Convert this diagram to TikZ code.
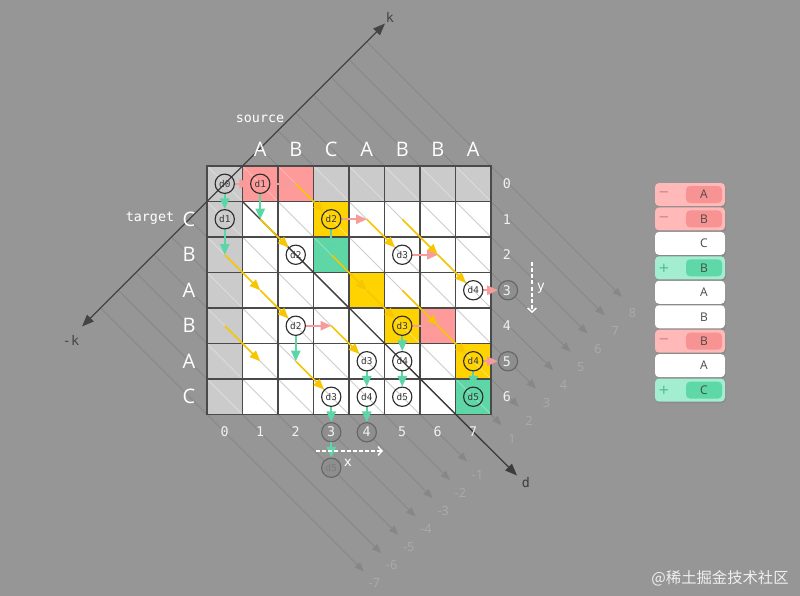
\documentclass[tikz,border=0pt]{standalone}
\usepackage{fontspec}
\setmainfont{Open Sans}
\newfontfamily\mono{DejaVu Sans Mono}
\newfontfamily\dejavu{DejaVu Sans}
\newfontfamily\cjk{Noto Sans CJK SC}
\usetikzlibrary{arrows.meta}
\definecolor{bgc}{HTML}{969696}
\definecolor{cellgray}{HTML}{CBCBCB}
\definecolor{pinkc}{HTML}{FF9A9A}
\definecolor{greenc}{HTML}{5ED6A6}
\definecolor{yellowc}{HTML}{FFD300}
\definecolor{ylwline}{HTML}{F7C600}
\definecolor{pnkline}{HTML}{F79C9C}
\definecolor{grnline}{HTML}{5CD6A6}
\definecolor{gridc}{HTML}{4A4A4A}
\definecolor{diagout}{HTML}{878787}
\definecolor{diaglabc}{HTML}{ABABAB}
\definecolor{axisc}{HTML}{444444}
\definecolor{lpink}{HTML}{FFB9B9}
\definecolor{dpink}{HTML}{F89393}
\definecolor{lgreen}{HTML}{A3EDD0}
\definecolor{dgreen}{HTML}{5FD8A7}
\definecolor{lgtext}{HTML}{4A4A4A}
\definecolor{dgw}{HTML}{CDCDCD}
\definecolor{dgg}{HTML}{DCDCDC}
\definecolor{dgp}{HTML}{FFB4B4}
\definecolor{dgy}{HTML}{FFE16E}
\definecolor{dgn}{HTML}{8CE4C0}
\definecolor{dlinec}{HTML}{3C3C3C}
\definecolor{circc}{HTML}{2D2D2D}
\definecolor{circt}{HTML}{373737}
\definecolor{numc}{HTML}{F2F2F2}
\definecolor{outfill}{HTML}{8E8E8E}
\definecolor{outdraw}{HTML}{666666}
\definecolor{outtext}{HTML}{7A7A7A}
\pgfdeclarelayer{bglayer}
\pgfdeclarelayer{midlayer}
\pgfsetlayers{bglayer,midlayer,main}
\newcommand\mycell[4]{%
  \fill[#3] ({207+35.5*#1},{166+35.5*#2}) rectangle +(35.5,35.5);
  \draw[#4, line width=0.6pt] ({207+35.5*#1},{166+35.5*#2}) -- +(35.5,35.5);}
\newcommand\lgrow[5]{% index, light, dark, sign, letter
  \fill[black, opacity=0.08, rounded corners=3pt] (656,{184.5+24.45*#1}) rectangle (726,{207.5+24.45*#1});
  \fill[#2, rounded corners=3pt] (655,{183+24.45*#1}) rectangle (725,{206+24.45*#1});
  \fill[#3, rounded corners=3pt] (686,{186+24.45*#1}) rectangle (722,{203+24.45*#1});
  \node[lgsign] (lgs#1) at (664,{194.5+24.45*#1}) {#4};
  \node[lgtxt] (lgl#1) at (704,{194.5+24.45*#1}) {#5};}
\newcommand\lgplain[2]{%
  \fill[black, opacity=0.08, rounded corners=3pt] (656,{184.5+24.45*#1}) rectangle (726,{207.5+24.45*#1});
  \fill[white, rounded corners=3pt] (655,{183+24.45*#1}) rectangle (725,{206+24.45*#1});
  \node[lgtxt] (lgl#1) at (704,{194.5+24.45*#1}) {#2};}
\begin{document}
\begin{tikzpicture}[x=0.75pt,y=-0.75pt,
  dn/.style={circle, draw=circc, line width=0.85pt, minimum size=14.5pt, inner sep=0pt,
    font=\mono\fontsize{7}{8}\selectfont, text=circt},
  outc/.style={circle, draw=outdraw, fill=outfill, text=outtext,
    line width=0.85pt, minimum size=14.5pt, inner sep=0pt, font=\mono\fontsize{7}{8}\selectfont},
  ylw/.style={draw=ylwline, line width=1.3pt, -{Triangle[length=8pt,width=6.5pt]}, fill=ylwline},
  pnk/.style={draw=pnkline, line width=1.3pt, -{Triangle[length=8pt,width=7pt]}, fill=pnkline},
  grn/.style={draw=grnline, line width=1.3pt, -{Triangle[length=8pt,width=7pt]}, fill=grnline},
  diagline/.style={draw=diagout, line width=0.7pt, -{Triangle[length=7pt,width=5.5pt]}},
  diaglab/.style={text=diaglabc, font=\fontsize{9.5}{11}\selectfont},
  gridline/.style={draw=gridc, line width=1.1pt, line cap=rect},
  axis/.style={draw=axisc, line width=1pt, -{Triangle[length=9pt,width=7pt]}},
  big/.style={text=white, font=\fontsize{15}{18}\selectfont},
  num/.style={text=numc, font=\mono\fontsize{10}{12}\selectfont},
  lbl/.style={text=white, font=\mono\fontsize{10}{12}\selectfont},
  axlab/.style={text=axisc, font=\mono\fontsize{10}{12}\selectfont},
  dasharrow/.style={draw=white, line width=1.1pt, dash pattern=on 3pt off 1.6pt, -{Straight Barb[length=3pt,width=6.5pt]}},
  lgtxt/.style={text=lgtext, font=\fontsize{9}{11}\selectfont},
  lgsign/.style={font=\dejavu\fontsize{10}{12}\selectfont}
]
\begin{pgfonlayer}{bglayer}
\fill[bgc] (0,0) rectangle (800,596);
\useasboundingbox (0,0) rectangle (800,596);
% diagonals outside
\foreach \k in {-7,-6,-5,-4,-3,-2,-1,1,2,3,4,5,6,7,8} {
  \coordinate (ks\k) at ({224.75+17.75*\k},{183.75-17.75*\k});
  \coordinate (ke\k) at ({501.5+17.2*(\k-1)},{501.5+17.2*(\k-1)-41-35.5*\k});
  \draw[diagline] (ks\k) -- (ke\k);
  \node[diaglab] (kl\k) at ({512+17.2*(\k-1)},{439-18*(\k-1)}) {\k};
}
% cells
\foreach \i in {0,...,7} \foreach \j in {0,...,6} {\mycell{\i}{\j}{white}{dgw}}
\foreach \i in {0,3,4,5,6,7} {\mycell{\i}{0}{cellgray}{dgg}}
\foreach \j in {1,...,6} {\mycell{0}{\j}{cellgray}{dgg}}
\mycell{1}{0}{pinkc}{dgp}
\mycell{2}{0}{pinkc}{dgp}
\mycell{6}{4}{pinkc}{dgp}
\mycell{3}{1}{yellowc}{dgy}
\mycell{4}{3}{yellowc}{dgy}
\mycell{5}{4}{yellowc}{dgy}
\mycell{7}{5}{yellowc}{dgy}
\mycell{3}{2}{greenc}{dgn}
\mycell{7}{6}{greenc}{dgn}
\foreach \i in {0,...,8} \draw[gridline] ({207+35.5*\i},166) -- ({207+35.5*\i},414.5);
\foreach \j in {0,...,7} \draw[gridline] (207,{166+35.5*\j}) -- (491,{166+35.5*\j});
\end{pgfonlayer}

% cell centres
\foreach \i in {0,...,8} \foreach \j in {0,...,8} {\coordinate (c\i\j) at ({224.75+35.5*\i},{183.75+35.5*\j});}

% outside circles (below the arrows)
\begin{pgfonlayer}{bglayer}
\node[outc] (o83) at (508,290.25) {};
\node[outc] (o85) at (508,361.25) {};
\node[outc] (o37) at (c37) {};
\node[outc] (o47) at (c47) {};
\node[outc] (o38) at (c38) {d5};
\end{pgfonlayer}

% circles
\node[dn] (n00) at (c00) {d0};
\node[dn] (n10) at (c10) {d1};
\node[dn] (n01) at (c01) {d1};
\node[dn] (n31) at (c31) {d2};
\node[dn] (n22) at (c22) {d2};
\node[dn] (n52) at (c52) {d3};
\node[dn] (n73) at (c73) {d4};
\node[dn] (n24) at (c24) {d2};
\node[dn] (n54) at (c54) {d3};
\node[dn] (n45) at (c45) {d3};
\node[dn] (n55) at (c55) {d4};
\node[dn] (n75) at (c75) {d4};
\node[dn] (n36) at (c36) {d3};
\node[dn] (n46) at (c46) {d4};
\node[dn] (n56) at (c56) {d5};
\node[dn] (n76) at (c76) {d5};

\begin{pgfonlayer}{midlayer}
% axes
\coordinate (kminus) at (82,326.5);
\coordinate (kplus) at (385,23.5);
\draw[axis, {Triangle[length=9pt,width=7pt]}-{Triangle[length=9pt,width=7pt]}] (kminus) -- (kplus);
\coordinate (dstart) at (242.5,201.5);
\coordinate (dend) at (517,475.5);
\draw[axis, draw=dlinec] (dstart) -- (dend);
% yellow snakes
\draw[ylw] (c20) -- (n31);
\draw[ylw] (c11) -- (n22);
\draw[ylw] (c02) -- (c13);
\draw[ylw] (c13) -- (n24);
\draw[ylw] (c04) -- (c15);
\draw[ylw] (c25) -- (n36);
\draw[ylw] (c34) -- (n45);
\draw[ylw] (c41) -- (n52);
\draw[ylw] (c51) -- (c62);
\draw[ylw] (c62) -- (n73);
\draw[ylw] (c32) -- (c43);
\draw[ylw] (c43) -- (n54);
\draw[ylw] (c53) -- (c64);
\draw[ylw] (c64) -- (n75);
% pink (deletions)
\draw[pnk] (n00) -- (n10);
\draw[pnk] (n10) -- (c20);
\draw[pnk] (n31) -- (c41);
\draw[pnk] (n52) -- (c62);
\draw[pnk] (n73) -- (o83);
\draw[pnk] (n24) -- (c34);
\draw[pnk] (n54) -- (c64);
\draw[pnk] (n75) -- (o85);
% green (insertions)
\draw[grn] (n00) -- (n01);
\draw[grn] (n10) -- (c11);
\draw[grn] (n01) -- (c02);
\draw[grn] (n31) -- (c32);
\draw[grn] (n24) -- (c25);
\draw[grn] (n45) -- (n46);
\draw[grn] (n46) -- (o47);
\draw[grn] (n36) -- (o37);
\draw[grn] (o37) -- (o38);
\draw[grn] (n54) -- (n55);
\draw[grn] (n55) -- (n56);
\draw[grn] (n75) -- (n76);
\end{pgfonlayer}

% axis labels
\node[axlab] (klab) at (390,17) {k};
\node[axlab] (mklab) at (71,340) {-k};
\node[axlab, text=dlinec] (dlab) at (526,483) {d};
\node[lbl] (srclab) at (260,119) {source};
\node[lbl] (tgtlab) at (150,218) {target};

% source letters
\foreach \ch [count=\i] in {A,B,C,A,B,B,A} {\node[big] (s\i) at ({224.75+35.5*\i},149) {\ch};}
% target letters
\foreach \ch [count=\j] in {C,B,A,B,A,C} {\node[big] (t\j) at (189,{183.75+35.5*\j}) {\ch};}
% row and column numbers
\foreach \j in {0,...,6} {\node[num] (r\j) at (507,{183.75+35.5*\j}) {\j};}
\foreach \i in {0,...,7} {\node[num] (col\i) at ({224.75+35.5*\i},432) {\i};}

% x / y direction arrows
\coordinate (xs) at (316,451);
\coordinate (xe) at (383,451);
\draw[dasharrow] (xs) -- (xe);
\node[lbl] (xlab) at (348,463) {x};
\coordinate (ys) at (532,262);
\coordinate (ye) at (532,313);
\draw[dasharrow] (ys) -- (ye);
\node[lbl] (ylab) at (541,288) {y};

% legend
\lgrow{0}{lpink}{dpink}{\textcolor{dpink!85!black}{−}}{A}
\lgrow{1}{lpink}{dpink}{\textcolor{dpink!85!black}{−}}{B}
\lgplain{2}{C}
\lgrow{3}{lgreen}{dgreen}{\textcolor{dgreen!85!black}{+}}{B}
\lgplain{4}{A}
\lgplain{5}{B}
\lgrow{6}{lpink}{dpink}{\textcolor{dpink!85!black}{−}}{B}
\lgplain{7}{A}
\lgrow{8}{lgreen}{dgreen}{\textcolor{dgreen!85!black}{+}}{C}

% watermark
\node[text=white, text opacity=0.85, font=\cjk\fontsize{11.5}{13}\selectfont] (wm) at (720,578) {@稀土掘金技术社区};
\end{tikzpicture}
\end{document}
